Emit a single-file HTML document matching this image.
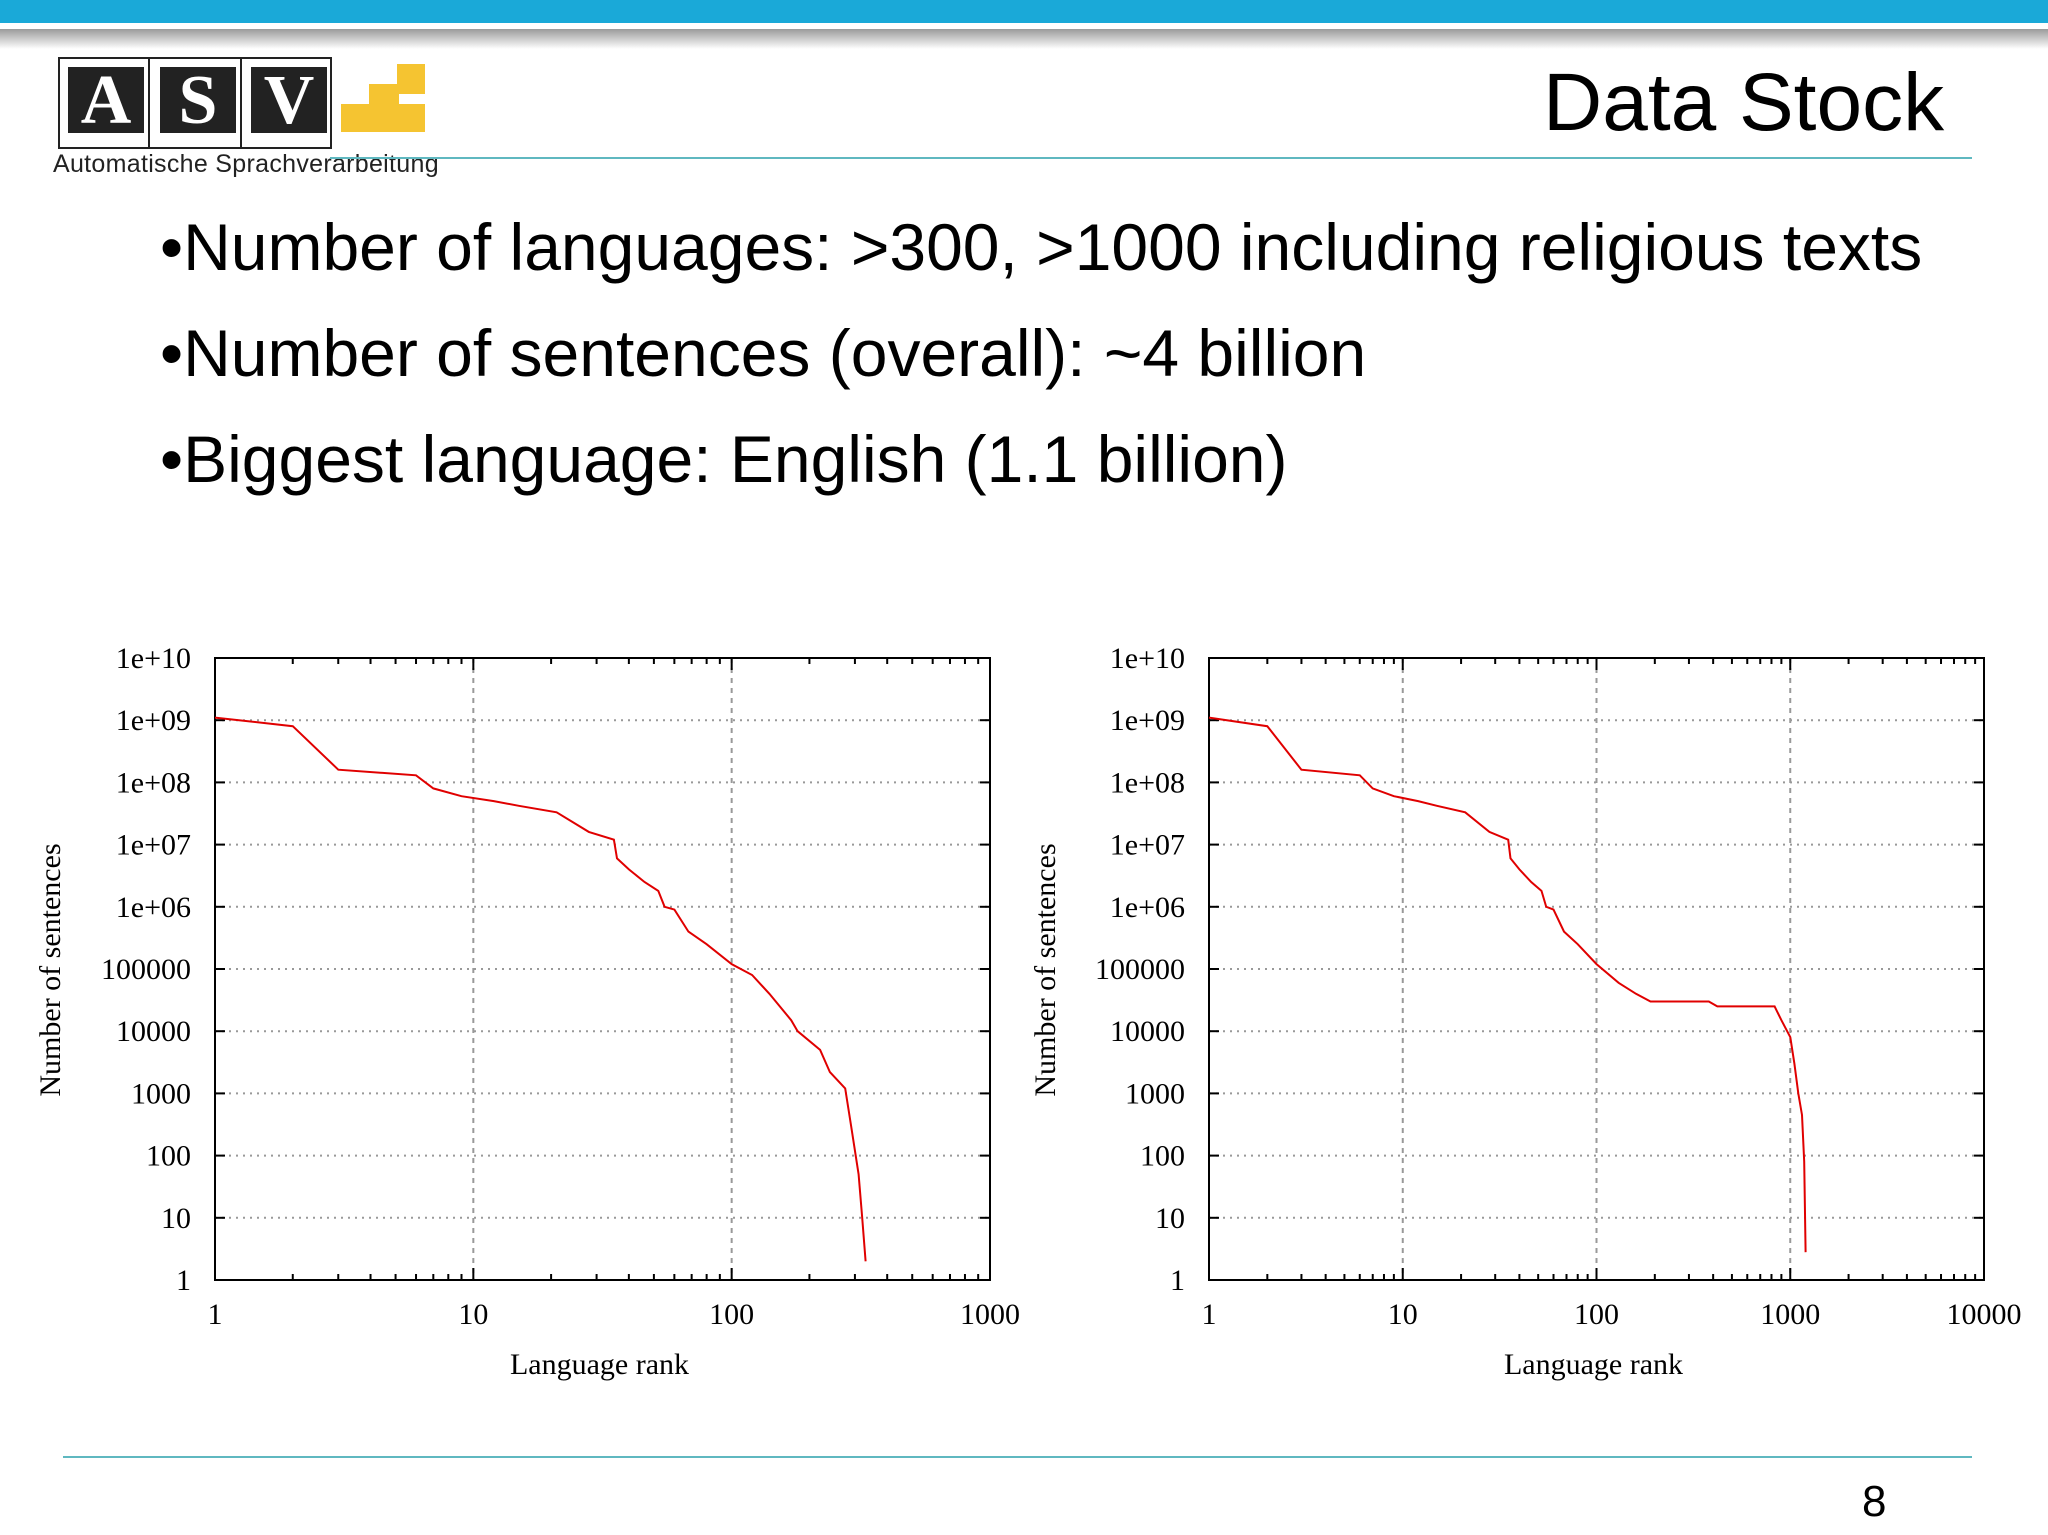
<!DOCTYPE html>
<html><head><meta charset="utf-8"><style>
html,body{margin:0;padding:0;background:#fff;}
body{width:2048px;height:1535px;position:relative;overflow:hidden;font-family:"Liberation Sans",sans-serif;}
.abs{position:absolute;}
.bullet{position:absolute;left:160px;font-size:66px;color:#000;white-space:nowrap;line-height:1;}
</style></head><body>
<div class="abs" style="left:0;top:0;width:2048px;height:23px;background:#1aa9d8"></div>
<div class="abs" style="left:0;top:23px;width:2048px;height:6px;background:#fff"></div>
<div class="abs" style="left:0;top:29px;width:2048px;height:20px;background:linear-gradient(#9a9a9a,#fff)"></div>

<div class="abs" style="left:58px;top:57px;width:370px;height:90px;">
  <div style="position:absolute;left:0;top:0;width:270px;height:88px;border:2px solid #222;background:#fff"></div>
  <div style="position:absolute;left:10px;top:10px;width:76px;height:66px;background:#222;color:#fff;font:bold 70px 'Liberation Serif',serif;text-align:center;line-height:68px">A</div>
  <div style="position:absolute;left:102px;top:10px;width:76px;height:66px;background:#222;color:#fff;font:bold 70px 'Liberation Serif',serif;text-align:center;line-height:68px">S</div>
  <div style="position:absolute;left:193px;top:10px;width:76px;height:66px;background:#222;color:#fff;font:bold 70px 'Liberation Serif',serif;text-align:center;line-height:68px">V</div>
  <div style="position:absolute;left:90px;top:0;width:2px;height:90px;background:#222"></div>
  <div style="position:absolute;left:182px;top:0;width:2px;height:90px;background:#222"></div>
  <div style="position:absolute;left:283px;top:47px;width:28px;height:28px;background:#f5c431"></div>
  <div style="position:absolute;left:311px;top:47px;width:28px;height:28px;background:#f5c431"></div>
  <div style="position:absolute;left:311px;top:27px;width:30px;height:20px;background:#f5c431"></div>
  <div style="position:absolute;left:339px;top:7px;width:28px;height:30px;background:#f5c431"></div>
  <div style="position:absolute;left:339px;top:47px;width:28px;height:28px;background:#f5c431"></div>
</div>
<div class="abs" style="left:53px;top:150px;font-size:25px;color:#222;white-space:nowrap;letter-spacing:0.3px">Automatische Sprachverarbeitung</div>
<div class="abs" style="left:330px;top:157px;width:1642px;height:2px;background:#5fb8c0"></div>
<div class="abs" style="left:1543px;top:62px;font-size:82px;line-height:1;color:#000;white-space:nowrap">Data Stock</div>

<div class="bullet" style="top:214px">•Number of languages: &gt;300, &gt;1000 including religious texts</div>
<div class="bullet" style="top:320px">•Number of sentences (overall): ~4 billion</div>
<div class="bullet" style="top:426px">•Biggest language: English (1.1 billion)</div>

<svg id="charts" class="abs" style="left:0;top:0" width="2048" height="1535"></svg>

<div class="abs" style="left:63px;top:1456px;width:1909px;height:2px;background:#5fb8c0"></div>
<div class="abs" style="left:1862px;top:1480px;font-size:44px;line-height:1;color:#000">8</div>

<script>
const yTicks = [0,1,2,3,4,5,6,7,8,9,10];
const yTickLabels = ["1","10","100","1000","10000","100000","1e+06","1e+07","1e+08","1e+09","1e+10"];
const x1Labels = ["1","10","100","1000"];
const x2Labels = ["1","10","100","1000","10000"];
const ranks1 = [1,2,3,6,7,9,12,15,21,28,35,36,40,46,52,55,60,68,80,100,120,140,170,180,220,240,275,290,310,320,330];
const values1 = [1.1e9,8e8,1.6e8,1.3e8,8e7,6e7,5e7,4.2e7,3.3e7,1.6e7,1.2e7,6e6,4e6,2.5e6,1.8e6,1e6,9e5,4e5,2.5e5,1.2e5,8e4,4e4,1.5e4,1e4,5e3,2.2e3,1.2e3,3e2,50,10,2];
const ranks2 = [1,2,3,6,7,9,12,15,21,28,35,36,40,46,52,55,60,68,80,100,130,160,190,250,380,420,830,900,1000,1050,1100,1150,1180,1200];
const values2 = [1.1e9,8e8,1.6e8,1.3e8,8e7,6e7,5e7,4.2e7,3.3e7,1.6e7,1.2e7,6e6,4e6,2.5e6,1.8e6,1e6,9e5,4e5,2.5e5,1.2e5,6e4,4e4,3e4,3e4,3e4,2.5e4,2.5e4,1.5e4,8e3,3e3,1e3,450,80,2.8];

const svg = document.getElementById('charts');
const NS = 'http://www.w3.org/2000/svg';
function mk(tag, attrs, parent){const e=document.createElementNS(NS,tag);for(const k in attrs)e.setAttribute(k,attrs[k]);(parent||svg).appendChild(e);return e;}

function drawChart(prefix, left, right, xDecades, xLabels, ranks, values, ylabX){
  const top=658, bottom=1280;
  const xs = r => left + Math.log10(r)/xDecades*(right-left);
  const ys = v => bottom - Math.log10(v)/10*(bottom-top);
  const g = mk('g',{});
  
  
  yTicks.forEach((t,i)=>{
    const y = bottom - t/10*(bottom-top);
    if(t>0 && t<10){ const l=mk('line',{x1:left,x2:right,y1:y,y2:y,stroke:'#999','stroke-width':2,'stroke-dasharray':'2,5'},g);
      
       }
    mk('line',{x1:left,x2:left+10,y1:y,y2:y,stroke:'#000','stroke-width':2},g);
    mk('line',{x1:right-10,x2:right,y1:y,y2:y,stroke:'#000','stroke-width':2},g);
    const tx = mk('text',{x:left-24,y:y+10,'text-anchor':'end','font-family':'Liberation Serif, serif','font-size':30,fill:'#000'},g);
    tx.textContent = yTickLabels[i];
    
    
  });
  for(let d=0; d<=xDecades; d++){
    const x = left + d/xDecades*(right-left);
    if(d>0 && d<xDecades){ const l=mk('line',{x1:x,x2:x,y1:top,y2:bottom,stroke:'#999','stroke-width':2,'stroke-dasharray':'5,5'},g);
      
       }
    const tx = mk('text',{x:x,y:bottom+44,'text-anchor':'middle','font-family':'Liberation Serif, serif','font-size':30,fill:'#000'},g);
    tx.textContent = xLabels[d];
    
    
    if(d<xDecades){ for(let m=2;m<=9;m++){ const xm = xs(Math.pow(10,d)*m);
      mk('line',{x1:xm,x2:xm,y1:bottom,y2:bottom-6,stroke:'#000','stroke-width':2},g);
      mk('line',{x1:xm,x2:xm,y1:top,y2:top+6,stroke:'#000','stroke-width':2},g);} }
    mk('line',{x1:x,x2:x,y1:bottom,y2:bottom-12,stroke:'#000','stroke-width':2},g);
    mk('line',{x1:x,x2:x,y1:top,y2:top+12,stroke:'#000','stroke-width':2},g);
  }
  const frame = mk('rect',{x:left,y:top,width:right-left,height:bottom-top,fill:'none',stroke:'#000','stroke-width':2},g);
  
  
  const pts = ranks.map((r,i)=>xs(r).toFixed(1)+','+ys(values[i]).toFixed(1)).join(' ');
  const line = mk('polyline',{points:pts,fill:'none',stroke:'#e00000','stroke-width':2},g);
  
  
  const xt = mk('text',{x:(left+right)/2-3,y:1374,'text-anchor':'middle','font-family':'Liberation Serif, serif','font-size':30,fill:'#000'},g);
  xt.textContent='Language rank';
  
  
  const yt = mk('text',{x:0,y:0,'text-anchor':'middle','font-family':'Liberation Serif, serif','font-size':30,fill:'#000',transform:'translate('+ylabX+',970) rotate(-90)'},g);
  yt.textContent='Number of sentences';
  
  
}
drawChart('left', 215, 990, 3, x1Labels, ranks1, values1, 60);
drawChart('right', 1209, 1984, 4, x2Labels, ranks2, values2, 1055);
</script>
</body></html>
